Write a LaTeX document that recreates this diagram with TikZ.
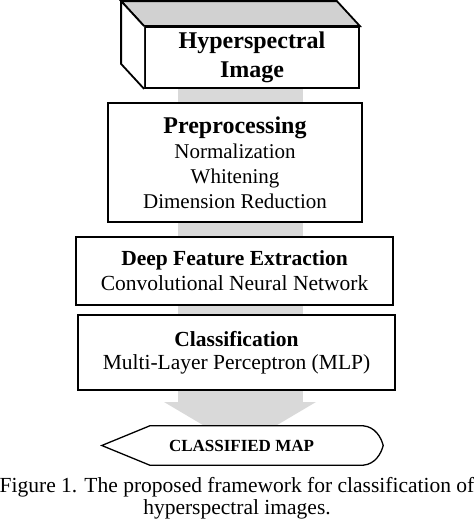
\documentclass[tikz,border=0pt]{standalone}
\usepackage{fontspec}
\setmainfont{Liberation Serif}
\usetikzlibrary{positioning, arrows.meta, backgrounds}
\definecolor{shaftgray}{gray}{0.85}
\definecolor{topgray}{gray}{0.82}
\tikzstyle{front} = [rectangle, minimum width=214pt, minimum height=61pt, text centered, align=center, draw=black, line width=1.8pt, fill=white, inner sep=0pt]
\tikzstyle{face} = [draw=black, line width=1.8pt, line join=miter]
\tikzstyle{stage} = [rectangle, text centered, align=center, draw=black, line width=1.3pt, fill=white, inner sep=0pt]
\tikzstyle{mapline} = [draw=black, line width=1.3pt, fill=white]
\tikzstyle{bigarrow} = [draw=shaftgray, line width=125pt, -{Triangle[length=45pt, width=152pt, line width=0pt]}]

\begin{document}
\begin{tikzpicture}[x=1pt, y=-1pt]
        \useasboundingbox (0,0) rectangle (474,520);
        % Nodes
        \node (hsi) [front, font=\fontsize{24}{29}\selectfont\bfseries] at (252,57.5) {Hyperspectral\\Image};
        \node (pre) [stage, minimum width=254pt, minimum height=119pt, font=\fontsize{21}{25}\selectfont] at (235,162.5) {{\fontsize{24}{26}\selectfont\bfseries Preprocessing}\\Normalization\\Whitening\\Dimension Reduction};
        \node (deep) [stage, minimum width=317pt, minimum height=68pt, font=\fontsize{21.5}{25}\selectfont] at (234.5,271) {{\bfseries Deep Feature Extraction}\\Convolutional Neural Network};
        \node (cls) [stage, minimum width=317pt, minimum height=75pt, font=\fontsize{21.5}{23}\selectfont] at (236.5,352.5) {{\bfseries Classification}\\Multi-Layer Perceptron (MLP)};
        \node (map) [minimum width=213pt, minimum height=39pt, inner sep=0pt] at (256.5,445.5) {};
        \node (caption) [align=center, font=\fontsize{21.5}{22}\selectfont] at (237,498) {Figure 1. The proposed framework for classification of\\hyperspectral images.};

        % 3D faces of the image block
        \draw [face, fill=topgray] (hsi.north west) -- ([shift={(-23pt,25pt)}]hsi.north west) -- ([shift={(-23pt,25pt)}]hsi.north east) -- (hsi.north east) -- cycle;
        \draw [face, fill=white] (hsi.north west) -- ([shift={(-23pt,25pt)}]hsi.north west) -- ([shift={(-23pt,25pt)}]hsi.south west) -- (hsi.south west);

        % Map outline
        \draw [mapline] (map.north west) -- (map.north east)
            .. controls ([xshift=12pt,yshift=-1pt]map.north east) and ([xshift=18pt,yshift=8pt]map.east) .. ([xshift=20pt]map.east)
            .. controls ([xshift=18pt,yshift=-8pt]map.east) and ([xshift=12pt,yshift=1pt]map.south east) .. (map.south east)
            -- (map.south west) -- ([xshift=-48pt]map.west) -- cycle;
        \node (maplabel) [font=\fontsize{17}{18}\selectfont\bfseries] at ([xshift=-15pt]map.center) {CLASSIFIED MAP};

        % Arrows
        \coordinate (shafttop) at (240,70);
        \coordinate (shafttip) at (240,447);
        \begin{scope}[on background layer]
            \draw [bigarrow] (shafttop) -- (shafttip);
        \end{scope}
    \end{tikzpicture}
\end{document}
